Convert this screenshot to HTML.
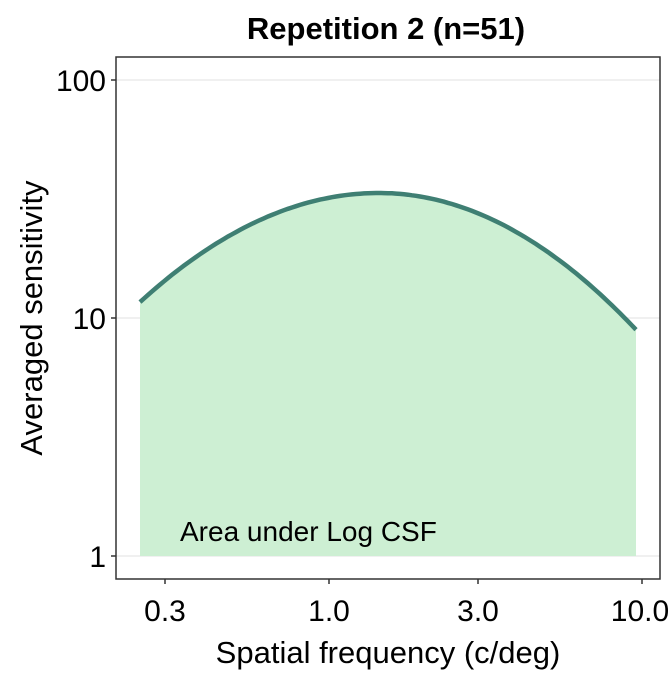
<!DOCTYPE html>
<html><head><meta charset="utf-8"><style>
body{margin:0;background:#fff}
svg text{font-family:"Liberation Sans",Arial,sans-serif;fill:#000}
</style></head><body>
<svg width="672" height="672" viewBox="0 0 672 672" xmlns="http://www.w3.org/2000/svg">
<text x="386" y="39" font-size="31" font-weight="bold" text-anchor="middle">Repetition 2 (n=51)</text>
<line x1="116" y1="80" x2="660" y2="80" stroke="#ebebeb" stroke-width="1.5"/>
<line x1="116" y1="318" x2="660" y2="318" stroke="#ebebeb" stroke-width="1.5"/>
<line x1="116" y1="556" x2="660" y2="556" stroke="#ebebeb" stroke-width="1.5"/>
<path id="fill" fill="#cdefd3" d=""/>
<path id="line" fill="none" stroke="#3f7f73" stroke-width="4.5" d=""/>
<text x="180" y="541" font-size="28">Area under Log CSF</text>
<rect x="116" y="57" width="544" height="522" fill="none" stroke="#333" stroke-width="1.5"/>
<g stroke="#333" stroke-width="1.5">
<line x1="111" y1="80" x2="116" y2="80"/><line x1="111" y1="318" x2="116" y2="318"/><line x1="111" y1="556" x2="116" y2="556"/>
<line x1="165" y1="579" x2="165" y2="584"/><line x1="329" y1="579" x2="329" y2="584"/><line x1="478" y1="579" x2="478" y2="584"/><line x1="642" y1="579" x2="642" y2="584"/>
</g>
<g font-size="30" text-anchor="end">
<text x="106" y="91">100</text><text x="106" y="329">10</text><text x="106" y="567">1</text>
</g>
<g font-size="30" text-anchor="middle">
<text x="165" y="621">0.3</text><text x="329" y="621">1.0</text><text x="478" y="621">3.0</text><text x="640" y="621">10.0</text>
</g>
<text x="388" y="663" font-size="31" text-anchor="middle">Spatial frequency (c/deg)</text>
<text transform="translate(42,318) rotate(-90)" font-size="31" text-anchor="middle">Averaged sensitivity</text>
</svg>
<script>
var p=[];
for(var x=140;x<=636;x+=4){var dx=x-379;var a=dx<0?0.00191:0.00207;p.push([x,193+a*dx*dx]);}
var d=p.map(function(q,i){return (i?"L":"M")+q[0]+" "+q[1].toFixed(1)}).join(" ");
document.getElementById("line").setAttribute("d",d);
document.getElementById("fill").setAttribute("d",d+" L636 556 L140 556 Z");
</script>
</body></html>
